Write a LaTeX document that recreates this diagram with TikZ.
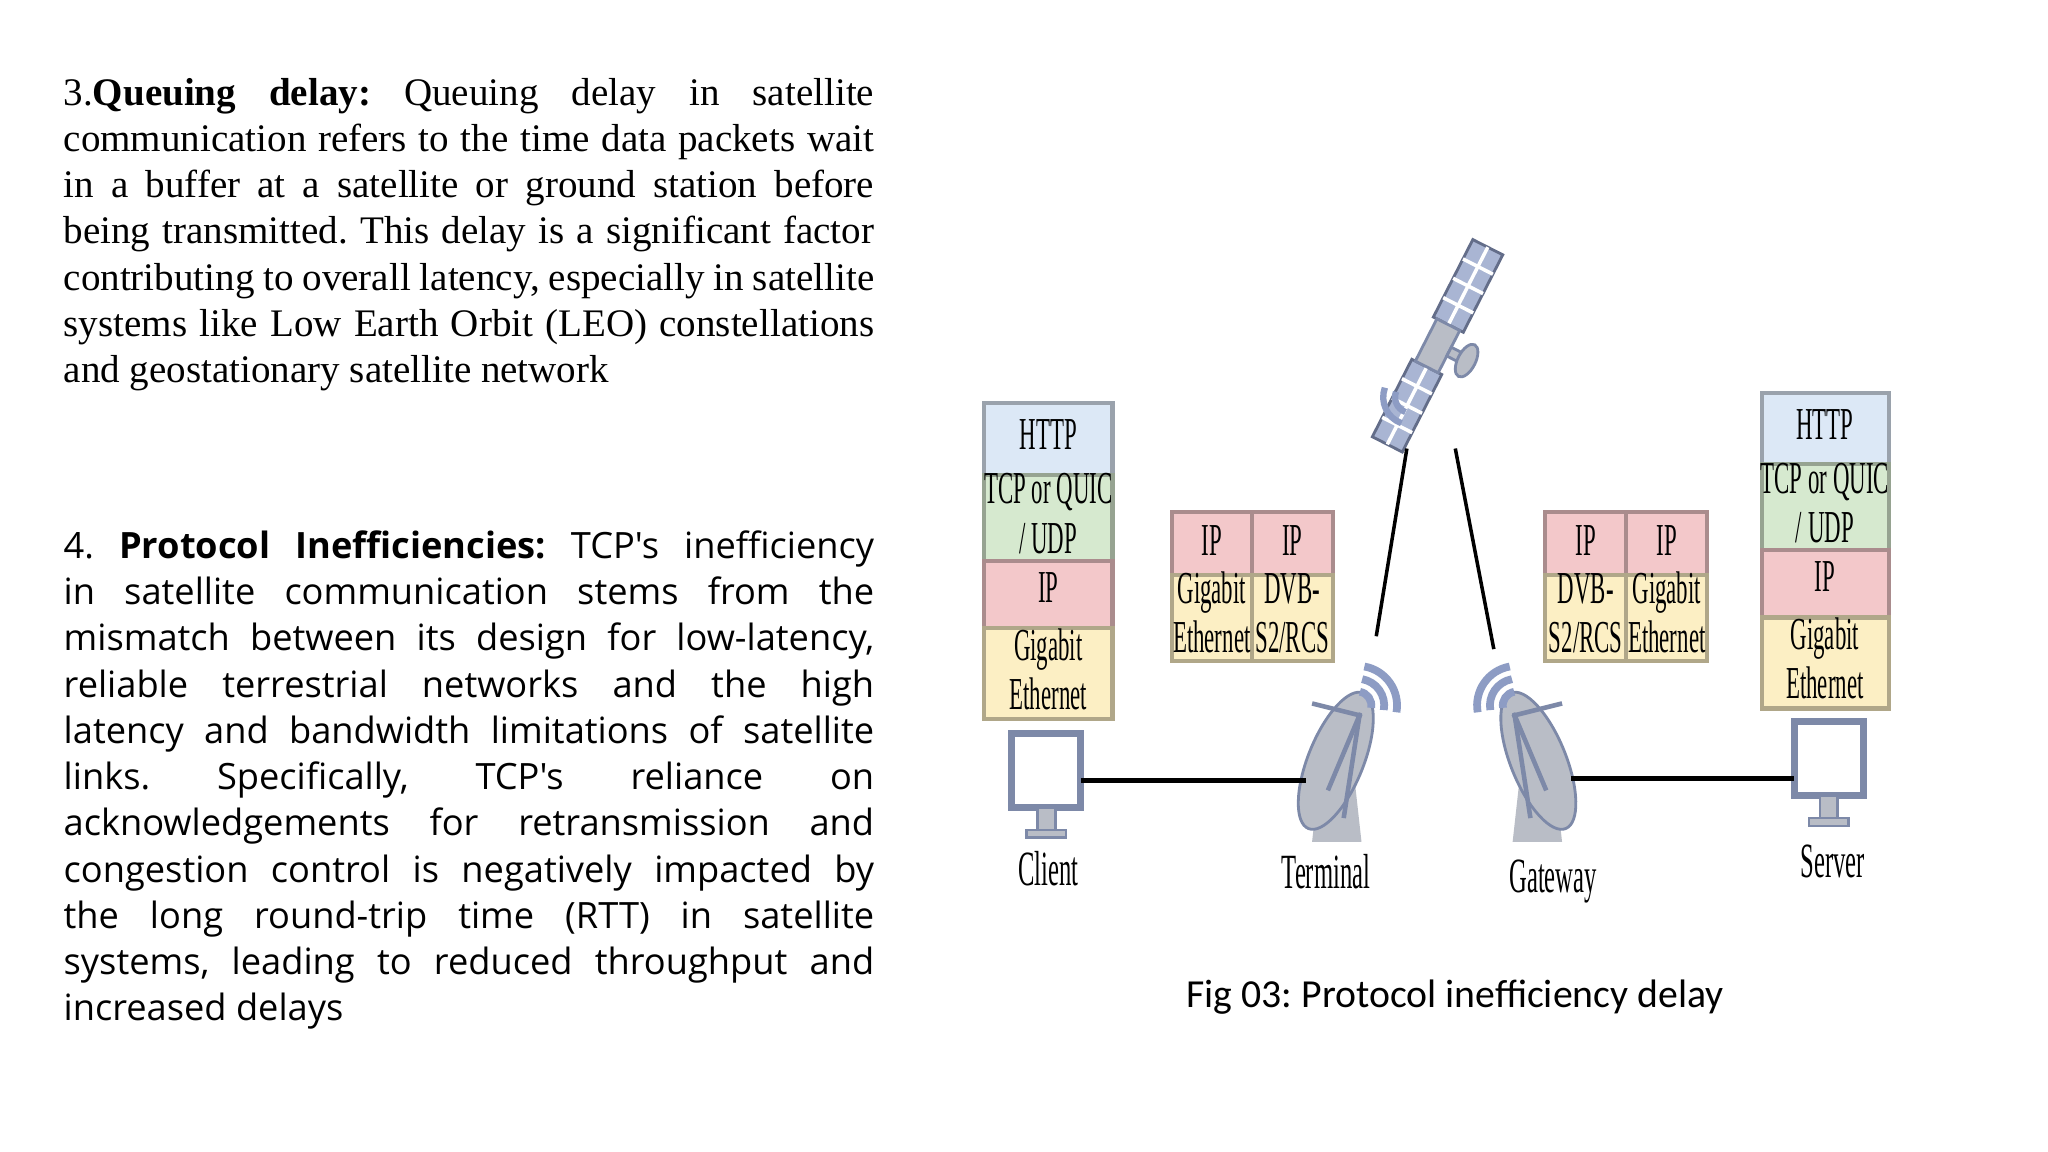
\documentclass[tikz,border=0pt]{standalone}
\usepackage{fontspec}
\setmainfont{Liberation Serif}
\newfontfamily\osans{Open Sans}
\newfontfamily\carl{Carlito}
\usepackage{graphicx}
\newcommand{\nt}[1]{\scalebox{0.5}[1]{\begin{tabular}{@{}c@{}}#1\end{tabular}}}
\hyphenpenalty=10000 \exhyphenpenalty=10000
\frenchspacing
\begin{document}
\begin{tikzpicture}[x=0.01cm,y=-0.01cm,
  lay/.style={draw=#1!70!black,line width=1.2pt,fill=#1},
  gry/.style={fill=dishg,draw=dishb,line width=0.8pt},
  st/.style={font=\fontsize{13}{14}\selectfont,inner sep=0pt},
  lbl/.style={font=\fontsize{14}{15}\selectfont},
  link/.style={line width=1.2pt},
  wave/.style={draw=satb,line width=2.2pt}]
\definecolor{cb}{HTML}{DCE8F6}\definecolor{cg}{HTML}{D6E9CF}
\definecolor{cr}{HTML}{F3C8CA}\definecolor{cy}{HTML}{FCEFC4}
\definecolor{dishg}{HTML}{B9BDC6}\definecolor{dishb}{HTML}{7D89A8}
\definecolor{satb}{HTML}{8D9CC4}
\useasboundingbox (0,0) rectangle (2048,1152);
\fill[white] (0,0) rectangle (2048,1152);
% texts
\node[anchor=north west,inner sep=0pt,align=justify,text width=8.1cm,
  font=\fontsize{11.1}{13.1}\selectfont] (t1) at (63,78)
 {3.\textbf{Queuing delay:} Queuing delay in satellite\linebreak communication refers to the time data packets wait\linebreak in a buffer at a satellite or ground station before\linebreak being transmitted. This delay is a significant factor\linebreak contributing to overall latency, especially in satellite\linebreak systems like Low Earth Orbit (LEO) constellations\linebreak and geostationary satellite network};
\node[anchor=north west,inner sep=0pt,align=justify,text width=8.1cm,
  font=\osans\fontsize{10.3}{13.15}\selectfont] (t2) at (63,530)
 {4. \textbf{Protocol Inefficiencies:} TCP's inefficiency\linebreak in satellite communication stems from the\linebreak mismatch between its design for low-latency,\linebreak reliable terrestrial networks and the high\linebreak latency and bandwidth limitations of satellite\linebreak links. Specifically, TCP's reliance on\linebreak acknowledgements for retransmission and\linebreak congestion control is negatively impacted by\linebreak the long round-trip time (RTT) in satellite\linebreak systems, leading to reduced throughput and\linebreak increased delays};
\node[font=\carl\fontsize{11.3}{14}\selectfont] (cap) at (1455,997) {Fig 03: Protocol inefficiency delay};
\begin{scope}[scale=0.988]
% stacks
\foreach \xa/\xb/\ya/\yb/\yc/\yd/\ye in {996/1126/408/481/568/636/728, 1783/1912/398/470/557/625/717}{
  \draw[lay=cb] (\xa,\ya) rectangle (\xb,\yb);
  \draw[lay=cg] (\xa,\yb) rectangle (\xb,\yc);
  \draw[lay=cr] (\xa,\yc) rectangle (\xb,\yd);
  \draw[lay=cy] (\xa,\yd) rectangle (\xb,\ye);
}
\node[st] (c1) at (1061,445) {\nt{HTTP}};
\node[st] (c2) at (1061,525) {\nt{TCP or QUIC\\/ UDP}};
\node[st] (c3) at (1061,600) {\nt{IP}};
\node[st] (c4) at (1061,683) {\nt{Gigabit\\Ethernet}};
\node[st] (s1) at (1847,435) {\nt{HTTP}};
\node[st] (s2) at (1847,514) {\nt{TCP or QUIC\\/ UDP}};
\node[st] (s3) at (1847,589) {\nt{IP}};
\node[st] (s4) at (1847,672) {\nt{Gigabit\\Ethernet}};
% terminal and gateway stacks
\foreach \xa/\xm/\xb in {1186/1267/1349, 1564/1646/1728}{
  \draw[lay=cr] (\xa,518) rectangle (\xm,582);
  \draw[lay=cr] (\xm,518) rectangle (\xb,582);
  \draw[lay=cy] (\xa,582) rectangle (\xm,669);
  \draw[lay=cy] (\xm,582) rectangle (\xb,669);
}
\node[st] (ta) at (1226.5,552) {\nt{IP}};
\node[st] (tb) at (1308,552) {\nt{IP}};
\node[st] (tc) at (1226.5,626) {\nt{Gigabit\\Ethernet}};
\node[st] (td) at (1308,626) {\nt{DVB-\\S2/RCS}};
\node[st] (ga) at (1605,552) {\nt{IP}};
\node[st] (gb) at (1687,552) {\nt{IP}};
\node[st] (gc) at (1605,626) {\nt{DVB-\\S2/RCS}};
\node[st] (gd) at (1687,626) {\nt{Gigabit\\Ethernet}};
% monitors
\foreach \mx/\my in {1059/742, 1851/730}{
  \draw[draw=dishb,line width=2pt,fill=white] (\mx-35,\my) rectangle (\mx+35,\my+75);
  \fill[dishg,draw=dishb,line width=0.8pt] (\mx-9,\my+75) rectangle (\mx+9,\my+98);
  \fill[dishg,draw=dishb,line width=0.8pt] (\mx-20,\my+98) rectangle (\mx+20,\my+106);
}
\coordinate (cm) at (1094,790);
\coordinate (sm) at (1816,788);
% dishes
\foreach \dx/\fl in {1352/1, 1557/-1}{
\begin{scope}[shift={(\dx,770)},xscale=\fl]
  \fill[dishg] (-16,10) -- (18,10) -- (26,82) -- (-24,82) -- cycle;
  \draw[gry,rotate=-22] (0,0) ellipse (28 and 74);
  \draw[dishb,line width=1.3pt] (-8,30) -- (24,-46);
  \draw[dishb,line width=1.3pt] (-24,-58) -- (24,-46) -- (8,58);
  \fill[dishb] (24,-46) circle (3);
  \draw[wave] (22,-56) ++(-80:14) arc (-80:10:14);
  \draw[wave] (22,-56) ++(-80:27) arc (-80:10:27);
  \draw[wave] (22,-56) ++(-80:40) arc (-80:10:40);
\end{scope}}
\coordinate (term) at (1322,790);
\coordinate (gate) at (1590,788);
\draw[link] (cm) -- (term);
\draw[link] (gate) -- (sm);
% satellite
\begin{scope}[shift={(1455,350)},rotate=63]
  \foreach \s in {-1,1}{
    \begin{scope}[shift={(\s*68,0)}]
      \draw[fill=satb!75,draw=satb!70!black,line width=0.8pt] (-44,-17) rectangle (44,17);
      \foreach \i in {-22,0,22} \draw[white,line width=1pt] (\i,-17) -- (\i,17);
      \draw[white,line width=1pt] (-44,0) -- (44,0);
    \end{scope}
  }
  \draw[gry] (-24,-13) rectangle (24,13);
  \draw[gry] (-5,13) rectangle (5,26);
  \draw[gry] (0,33) ellipse (18 and 9);
\end{scope}
\begin{scope}[shift={(1428,402)}]
  \draw[wave,line width=1.8pt] (0,0) ++(110:16) arc (110:200:16);
  \draw[wave,line width=1.8pt] (0,0) ++(110:28) arc (110:200:28);
\end{scope}
\coordinate (sa) at (1424,454);
\coordinate (sb) at (1473,454);
\coordinate (ua) at (1393,644);
\coordinate (ub) at (1512,657);
\draw[line width=1pt] (sa) -- (ua);
\draw[line width=1pt] (sb) -- (ub);
% labels
\node[lbl] (lc) at (1061,886) {\nt{Client}};
\node[lbl] (lt) at (1342,889) {\nt{Terminal}};
\node[lbl] (lg) at (1572,893) {\nt{Gateway}};
\node[lbl] (ls) at (1855,877) {\nt{Server}};
\end{scope}
\end{tikzpicture}
\end{document}
